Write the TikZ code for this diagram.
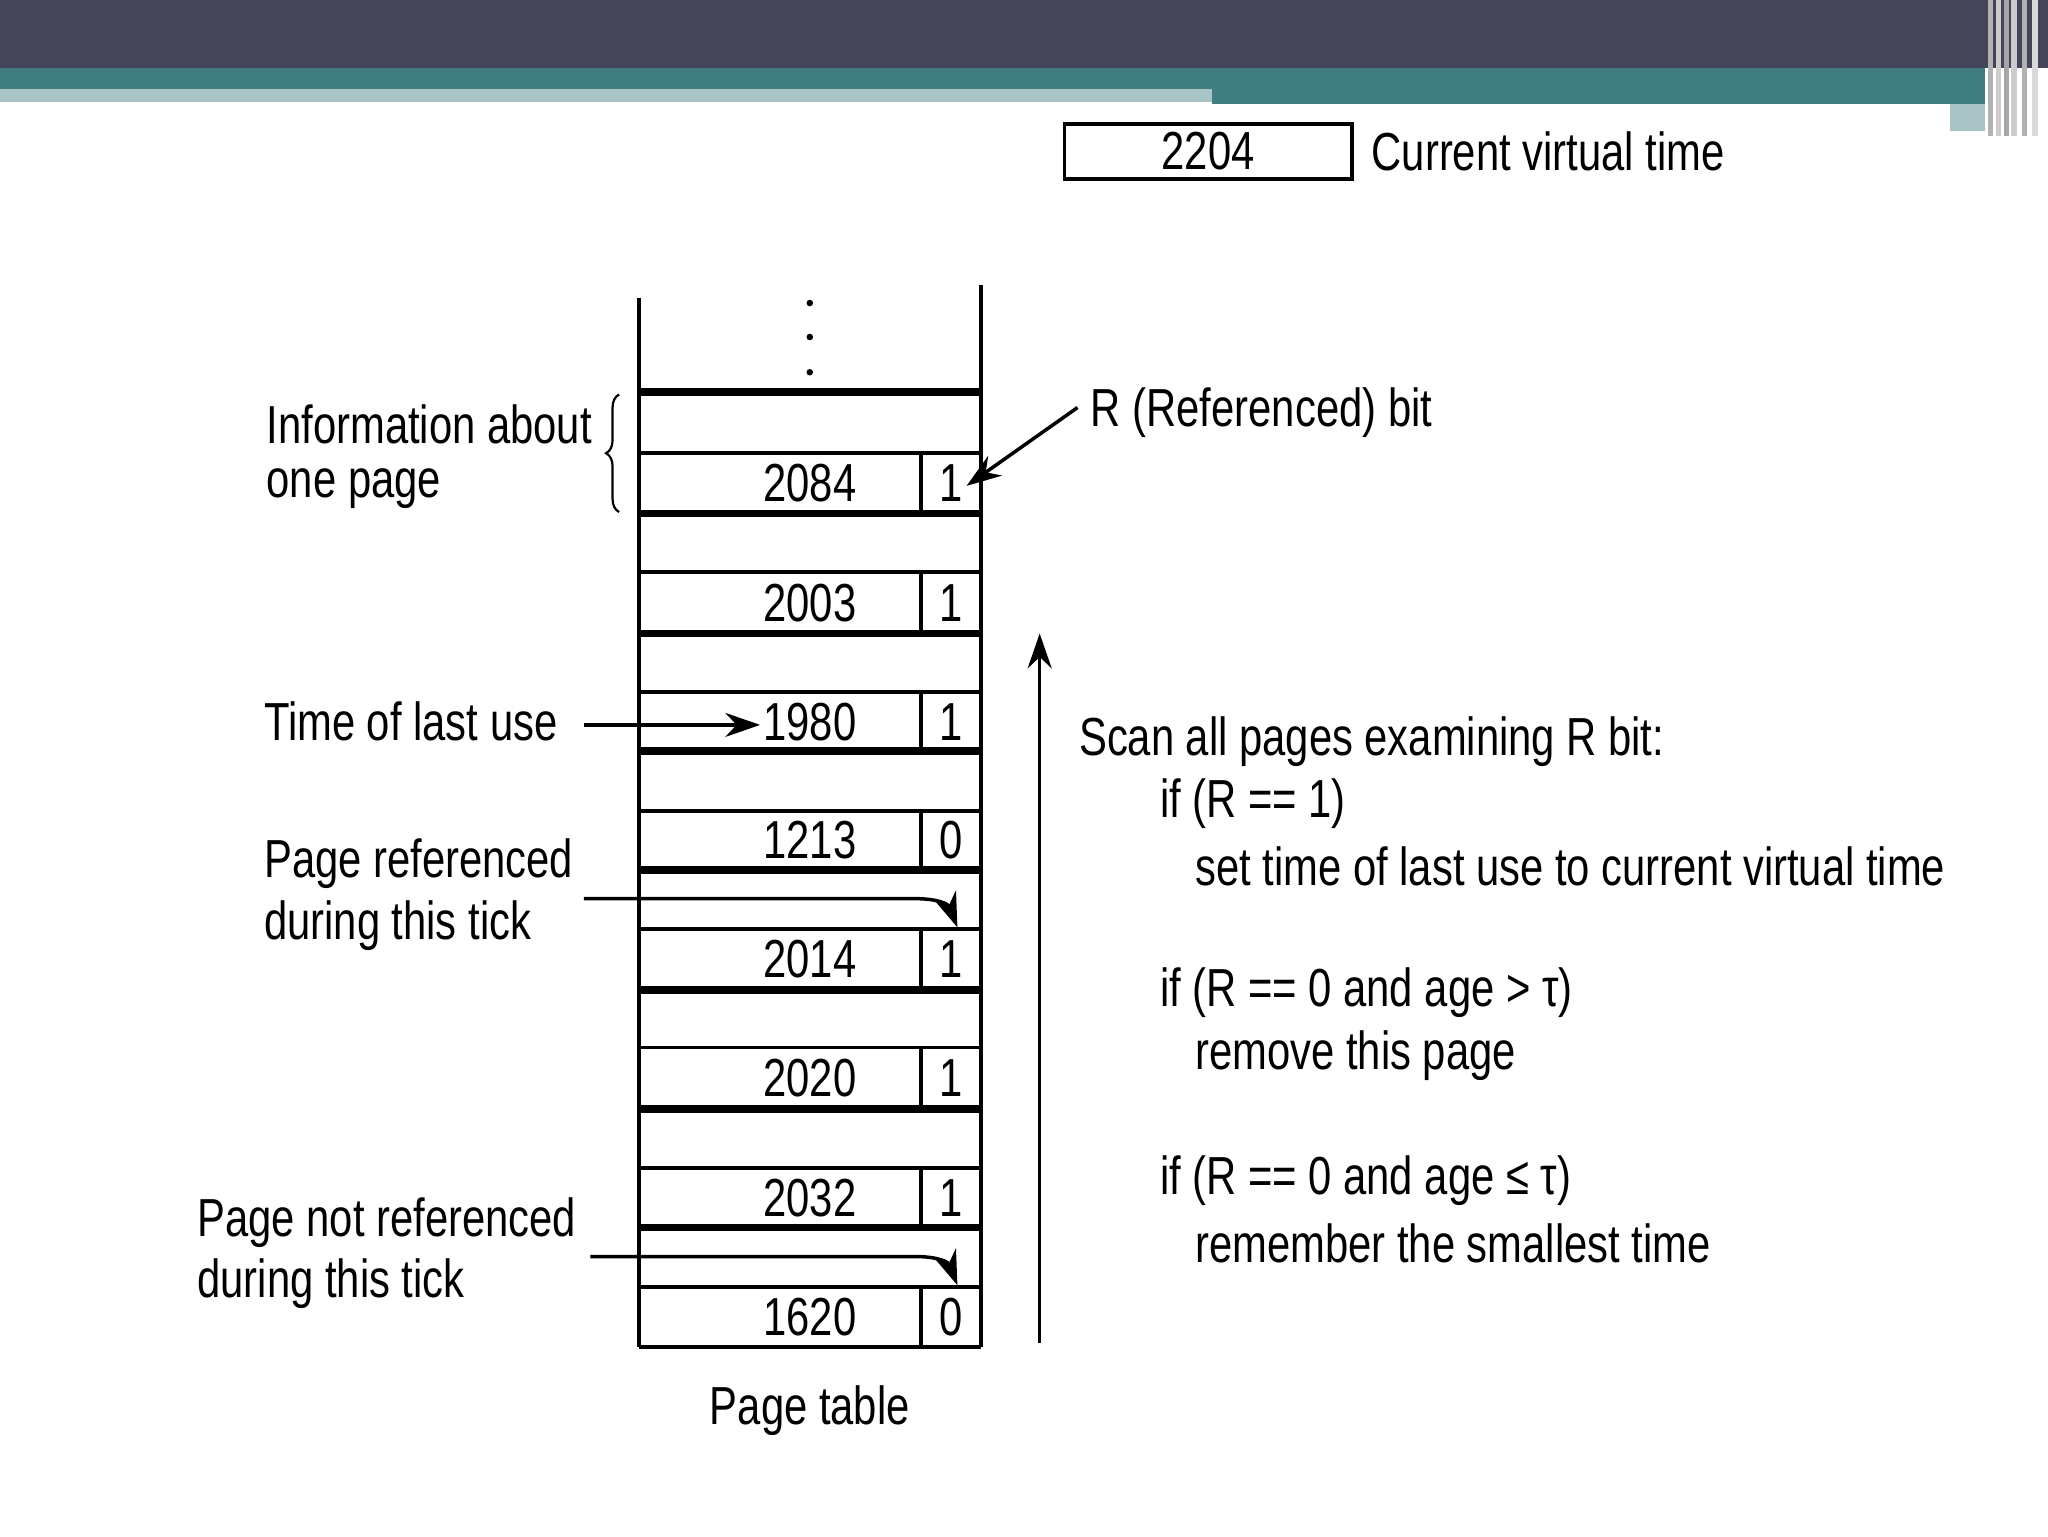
\documentclass[tikz,border=0pt]{standalone}
\usepackage{fontspec}
\setmainfont[FakeStretch=0.78]{Liberation Sans}
\usetikzlibrary{arrows.meta,decorations.pathreplacing}
\definecolor{hdark}{HTML}{454559}
\definecolor{hteal}{HTML}{417E82}
\definecolor{hlight}{HTML}{A8C4C6}
\begin{document}
\begin{tikzpicture}[x=0.3mm,y=-0.3mm,
  txt/.style={font=\fontsize{35}{40}\selectfont,inner sep=0pt},
  lt/.style={txt,anchor=west},
  thin line/.style={line width=0.9mm},
  arr/.style={line width=0.8mm,-{Stealth[length=8mm,width=5.5mm]}}]
\useasboundingbox (0,0) rectangle (1568,1176);
\fill[white] (0,0) rectangle (1568,1176);
% header
\fill[hdark] (0,0) rectangle (1568,52);
\fill[hteal] (0,52) rectangle (1520,68);
\fill[hlight] (0,68) rectangle (928,78);
\fill[hteal] (928,68) rectangle (1520,80);
\fill[hlight] (1493,80) rectangle (1520,100);
\foreach \x/\c in {1522/gray!60,1528/gray!40,1534/gray!70,1540/gray!40,1548/gray!60,1556/gray!30}
  \fill[\c] (\x,0) rectangle ++(4,104);
% current time
\node[draw,line width=0.9mm,minimum width=220*0.3mm,minimum height=42*0.3mm,txt] (cvt) at (925,116) {2204};
\node[lt] (cvtl) at (1050,116) {Current virtual time};
% table sides
\draw[thin line] (489,228) -- (489,1031);
\draw[thin line] (751,218) -- (751,1031);
\foreach \y in {232,258,285} \fill (620,\y) circle (2.5);
% rows
\foreach \y in {300,393,485,575,666,758,849,940}
  \draw[line width=1.7mm] (489,\y) -- (751,\y);
\foreach \y in {347,438,530,621,711,802,894,985}
  \draw[thin line] (489,\y) -- (751,\y);
\draw[thin line] (489,1031) -- (751,1031);
\foreach \t/\b/\n/\r/\nm in {347/393/2084/1/ra,438/485/2003/1/rb,530/575/1980/1/rc,621/666/1213/0/rd,711/758/2014/1/re,802/849/2020/1/rf,894/940/2032/1/rg,985/1031/1620/0/rh}{
  \draw[thin line] (705,\t) -- (705,\b);
  \node[txt] (\nm) at (620,{(\t+\b)/2}) {\n};
  \node[txt] (\nm-bit) at (728,{(\t+\b)/2}) {\r};
}
\node[txt] (pt) at (620,1080) {Page table};
% left labels
\node[lt] (info) at (204,325) {Information about};
\node[lt] (info2) at (204,374) {one page};
\draw[line width=0.5mm,decorate,decoration={brace,amplitude=3mm}] (474,392) -- (474,302);
\node[lt] (tlu) at (202,552) {Time of last use};
\coordinate (tlus) at (447,555);
\coordinate (tlue) at (582,555);
\draw[arr] (tlus) -- (tlue);
\node[lt] (pr) at (202,661) {Page referenced};
\node[lt] (pr2) at (202,709) {during this tick};
\coordinate (prs) at (447,688);
\coordinate (pre) at (733,710);
\draw[arr] (prs) -- (700,688) .. controls (718,688) and (726,692) .. (pre);
\node[lt] (pn) at (151,936) {Page not referenced};
\node[lt] (pn2) at (151,983) {during this tick};
\coordinate (pns) at (452,962);
\coordinate (pne) at (733,984);
\draw[arr] (pns) -- (700,962) .. controls (718,962) and (726,966) .. (pne);
% R bit
\node[lt] (rbl) at (835,316) {R (Referenced) bit};
\coordinate (rbs) at (825,312);
\coordinate (rbe) at (740,372);
\draw[arr] (rbs) -- (rbe);
% scan arrow
\coordinate (sa) at (796,1028);
\coordinate (sb) at (796,485);
\draw[arr] (sa) -- (sb);
% right text
\node[lt] (s1) at (826,568) {Scan all pages examining R bit:};
\node[lt] (s2) at (888,615) {if (R == 1)};
\node[lt] (s3) at (915,663) {set time of last use to current virtual time};
\node[lt] (s4) at (888,760) {if (R == 0 and age > τ)};
\node[lt] (s5) at (915,808) {remove this page};
\node[lt] (s6) at (888,904) {if (R == 0 and age ≤ τ)};
\node[lt] (s7) at (915,952) {remember the smallest time};
\end{tikzpicture}
\end{document}
